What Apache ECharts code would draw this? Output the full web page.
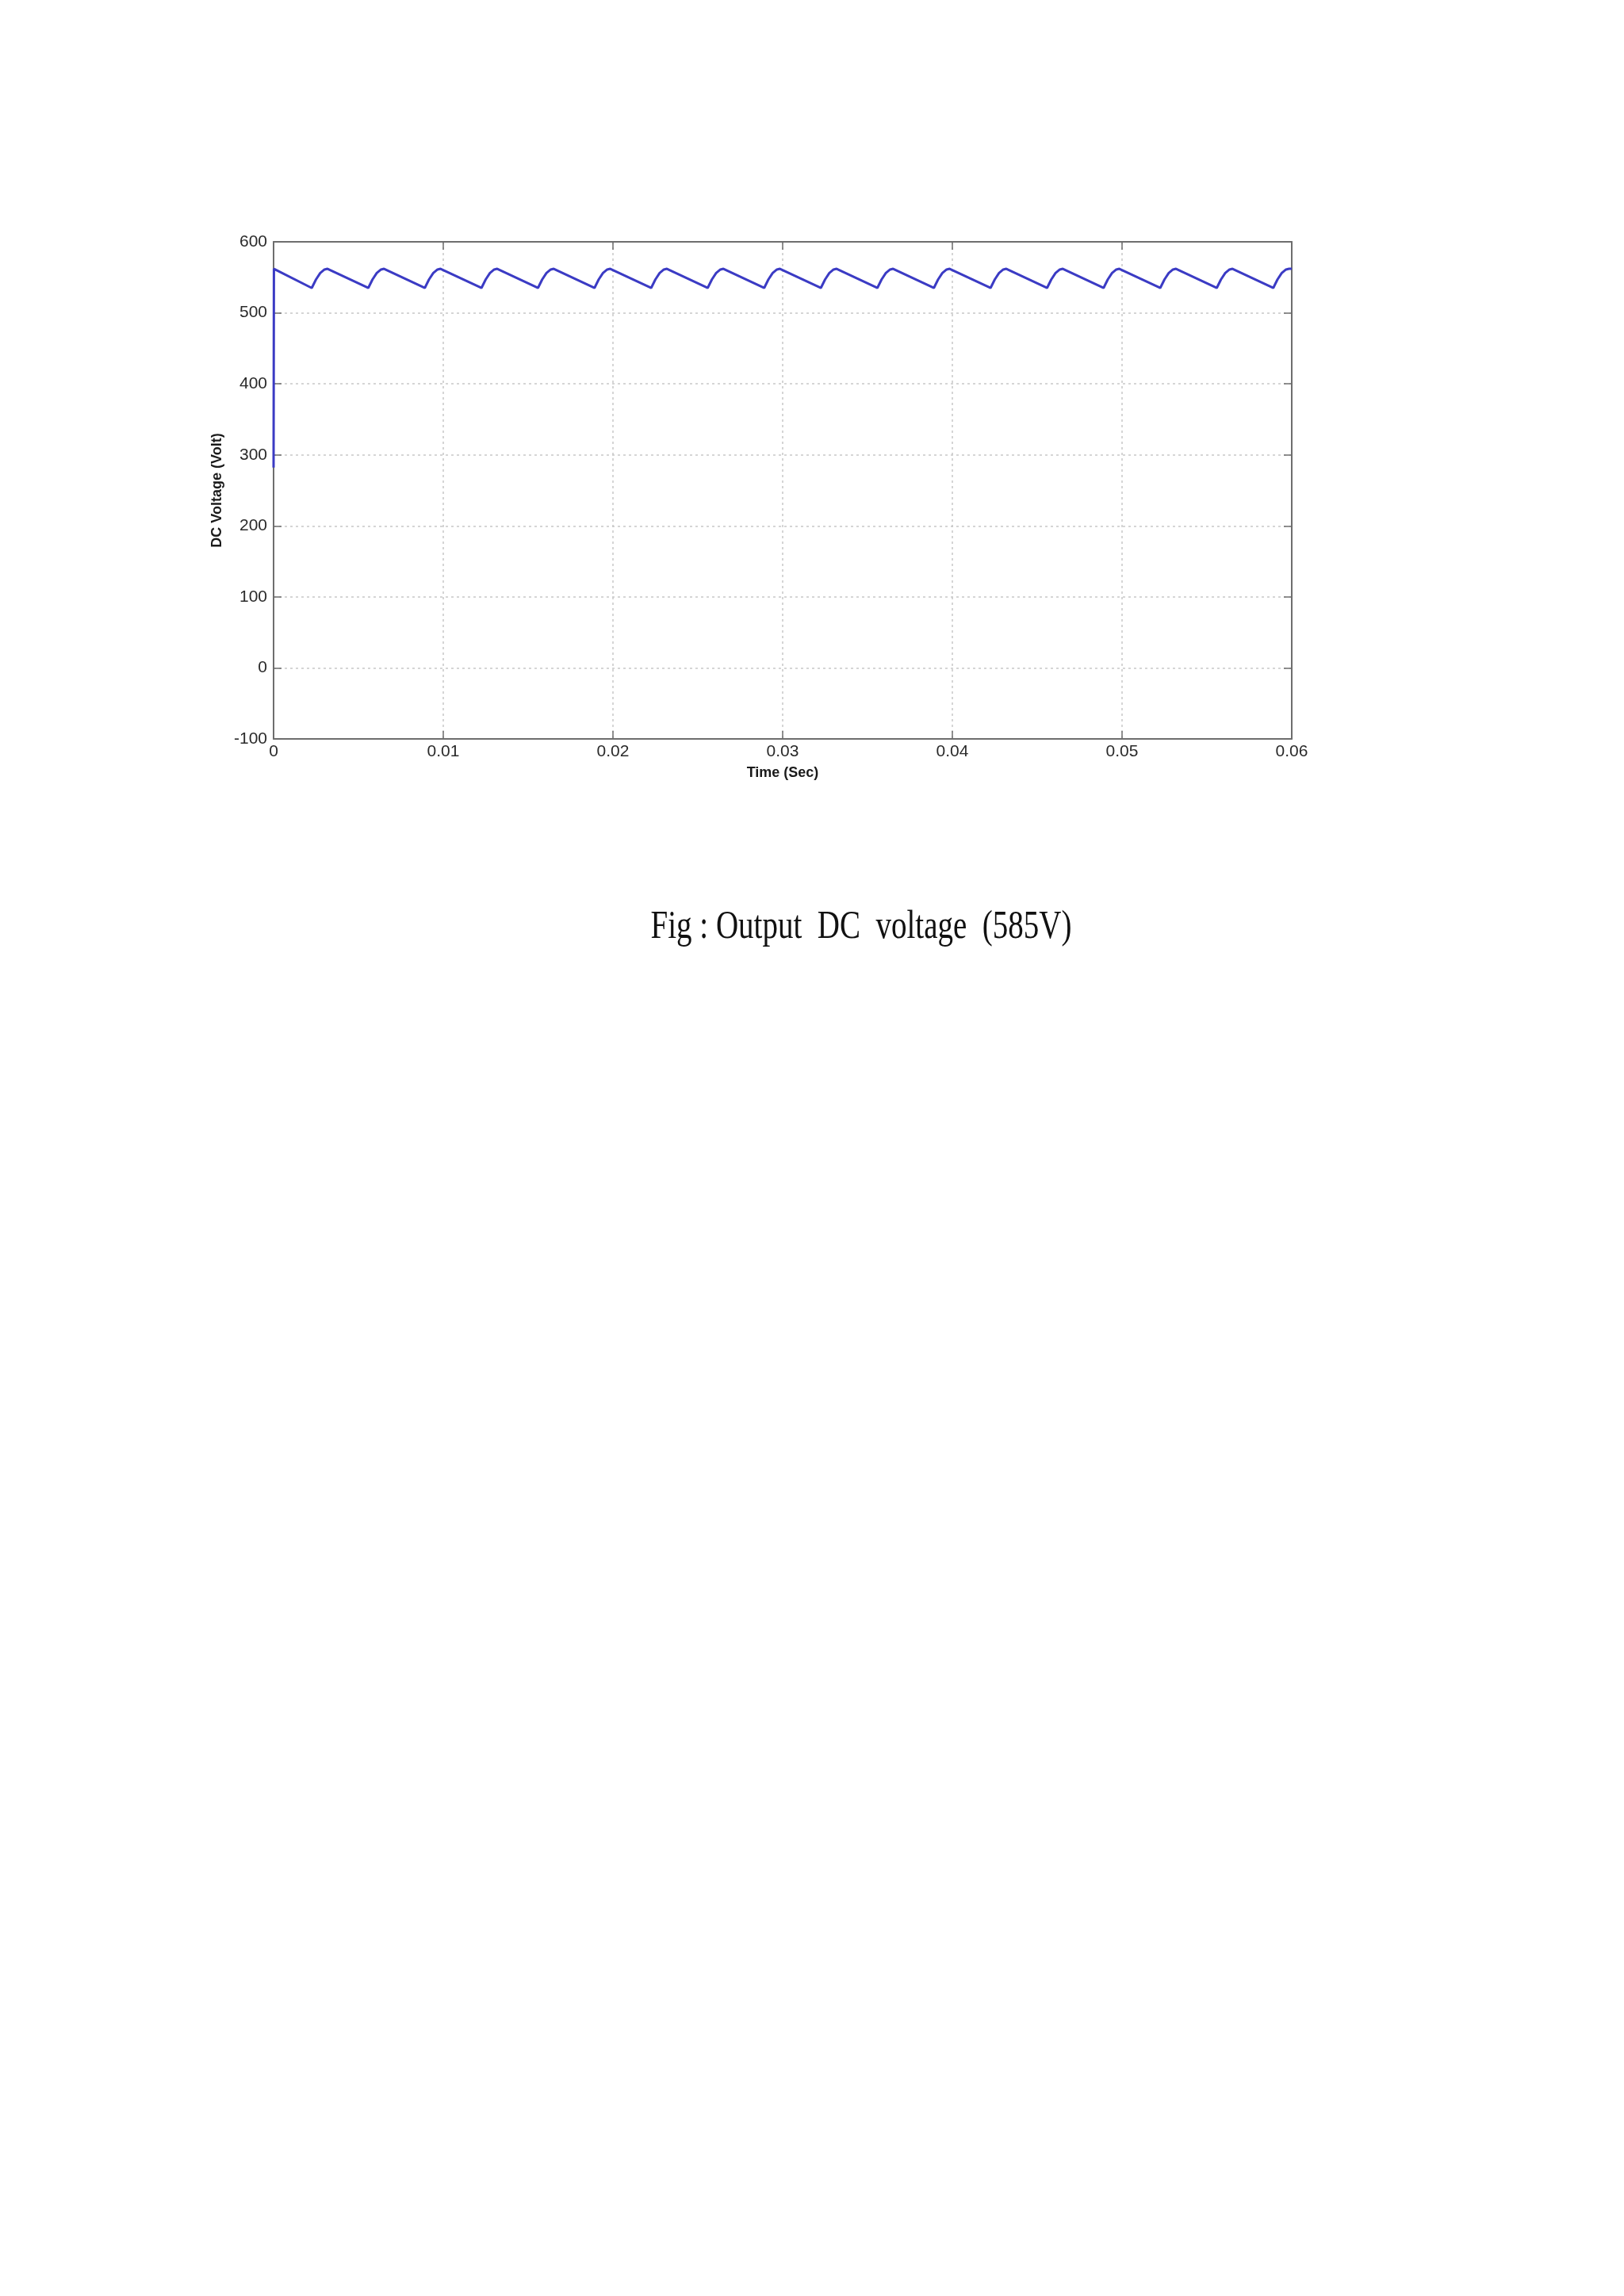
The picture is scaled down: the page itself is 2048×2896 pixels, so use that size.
<!DOCTYPE html>
<html>
<head>
<meta charset="utf-8">
<script src="https://cdn.jsdelivr.net/npm/echarts@6/dist/echarts.min.js"></script>
<style>
html,body{margin:0;padding:0;background:#ffffff;}
#chart{width:2048px;height:2896px;}
</style>
</head>
<body>
<div id="chart"></div>
<script>
// Time samples (s)
const timeSec = [
  0.00000, 0.00002,
  0.00225, 0.00250, 0.00275, 0.00300, 0.00318,
  0.00558, 0.00583, 0.00608, 0.00633, 0.00651,
  0.00891, 0.00916, 0.00941, 0.00966, 0.00984,
  0.01225, 0.01250, 0.01275, 0.01300, 0.01318,
  0.01558, 0.01583, 0.01608, 0.01633, 0.01651,
  0.01891, 0.01916, 0.01941, 0.01966, 0.01984,
  0.02225, 0.02250, 0.02275, 0.02300, 0.02318,
  0.02558, 0.02583, 0.02608, 0.02633, 0.02651,
  0.02891, 0.02916, 0.02941, 0.02966, 0.02984,
  0.03225, 0.03250, 0.03275, 0.03300, 0.03318,
  0.03558, 0.03583, 0.03608, 0.03633, 0.03651,
  0.03891, 0.03916, 0.03941, 0.03966, 0.03984,
  0.04225, 0.04250, 0.04275, 0.04300, 0.04318,
  0.04558, 0.04583, 0.04608, 0.04633, 0.04651,
  0.04891, 0.04916, 0.04941, 0.04966, 0.04984,
  0.05225, 0.05250, 0.05275, 0.05300, 0.05318,
  0.05558, 0.05583, 0.05608, 0.05633, 0.05651,
  0.05891, 0.05916, 0.05941, 0.05966, 0.05984,
  0.06000
];
// DC voltage (V)
const dcVolt = [
  282, 562,
  535, 547, 556, 561, 562,
  535, 547, 556, 561, 562,
  535, 547, 556, 561, 562,
  535, 547, 556, 561, 562,
  535, 547, 556, 561, 562,
  535, 547, 556, 561, 562,
  535, 547, 556, 561, 562,
  535, 547, 556, 561, 562,
  535, 547, 556, 561, 562,
  535, 547, 556, 561, 562,
  535, 547, 556, 561, 562,
  535, 547, 556, 561, 562,
  535, 547, 556, 561, 562,
  535, 547, 556, 561, 562,
  535, 547, 556, 561, 562,
  535, 547, 556, 561, 562,
  535, 547, 556, 561, 562,
  535, 547, 556, 561, 562,
  562
];
const xTicks = [0, 0.01, 0.02, 0.03, 0.04, 0.05, 0.06];
const yTicks = [-100, 0, 100, 200, 300, 400, 500, 600];
const xTitle = 'Time (Sec)';
const yTitle = 'DC Voltage (Volt)';
const caption = 'Fig : Output  DC  voltage  (585V)';

const chart = echarts.init(document.getElementById('chart'), null, {renderer: 'canvas'});
const axisCol = '#6e6e6e';
const labelStyle = {color: '#2a2a2a', fontFamily: 'Liberation Sans, Arial, sans-serif', fontSize: 21};
const gridLine = {show: true, lineStyle: {color: '#c8c8c8', type: [3, 4], width: 1.5}};
const pairs = timeSec.map((t, i) => [t, dcVolt[i]]);
const tickStyle = {show: true, inside: true, length: 10, lineStyle: {color: axisCol, width: 1.5}};
const lineStyleAxis = {show: true, onZero: false, lineStyle: {color: axisCol, width: 2}};

chart.setOption({
  backgroundColor: '#ffffff',
  animation: false,
  graphic: [{
    type: 'text',
    x: 1086, y: 1170,
    scaleX: 0.78,
    style: {
      text: caption,
      textAlign: 'center', textVerticalAlign: 'middle',
      font: '50px "Liberation Serif", "Times New Roman", serif',
      fill: '#111'
    }
  }],
  grid: {left: 345, top: 305, width: 1284, height: 627, show: false},
  xAxis: [{
    type: 'value', min: xTicks[0], max: xTicks[xTicks.length - 1], interval: 0.01,
    position: 'bottom',
    name: xTitle, nameLocation: 'middle', nameGap: 34,
    nameTextStyle: {fontFamily: 'Liberation Sans, Arial, sans-serif', fontWeight: 'bold', fontSize: 18, color: '#1a1a1a'},
    axisLine: lineStyleAxis,
    axisTick: tickStyle,
    axisLabel: Object.assign({margin: 6, formatter: v => (Math.round(v * 100) / 100).toString()}, labelStyle),
    splitLine: gridLine
  }, {
    type: 'value', min: xTicks[0], max: xTicks[xTicks.length - 1], interval: 0.01,
    position: 'top',
    axisLine: lineStyleAxis,
    axisTick: tickStyle,
    axisLabel: {show: false},
    splitLine: {show: false}
  }],
  yAxis: [{
    type: 'value', min: yTicks[0], max: yTicks[yTicks.length - 1], interval: 100,
    position: 'left',
    name: yTitle, nameLocation: 'middle', nameGap: 62, nameRotate: 90,
    nameTextStyle: {fontFamily: 'Liberation Sans, Arial, sans-serif', fontWeight: 'bold', fontSize: 18, color: '#1a1a1a'},
    axisLine: lineStyleAxis,
    axisTick: tickStyle,
    axisLabel: Object.assign({margin: 8}, labelStyle),
    splitLine: gridLine
  }, {
    type: 'value', min: yTicks[0], max: yTicks[yTicks.length - 1], interval: 100,
    position: 'right',
    axisLine: lineStyleAxis,
    axisTick: tickStyle,
    axisLabel: {show: false},
    splitLine: {show: false}
  }],
  series: [{
    type: 'line',
    xAxisIndex: 0, yAxisIndex: 0,
    data: pairs,
    showSymbol: false,
    smooth: false,
    lineStyle: {color: '#3b3bc4', width: 3},
    z: 5
  }]
});
</script>
</body>
</html>
